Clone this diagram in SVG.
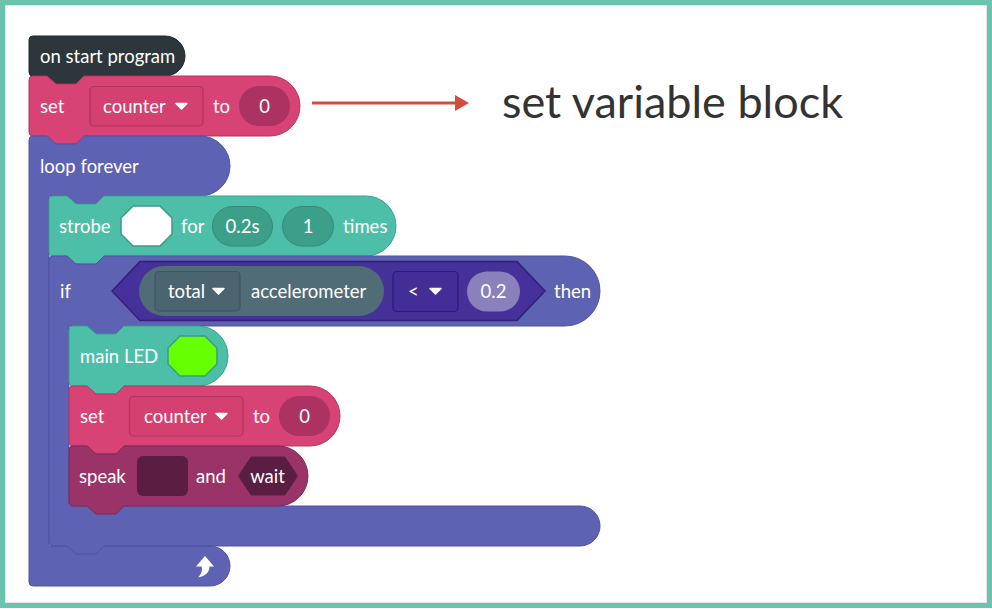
<svg xmlns="http://www.w3.org/2000/svg" width="992" height="609" viewBox="0 0 992 609">
<style>
  .t { font-family: Lato, "Noto Sans", sans-serif; font-size: 18.5px; fill: #ffffff; }
  .big { font-family: Lato, "Noto Sans", sans-serif; font-size: 45px; fill: #333333; }
  .hat { fill: #2c363b; stroke: #1e2629; stroke-width: 1; }
  .pink { fill: #d74374; stroke: #b9345f; stroke-width: 1; }
  .pinkdd { fill: #d4406f; stroke: #b3325c; stroke-width: 1.2; }
  .pinkov { fill: #ab3261; }
  .purple { fill: #5e62b3; stroke: #4f53a3; stroke-width: 1; }
  .teal { fill: #4dbfa8; stroke: #3aa38f; stroke-width: 1; }
  .tealov { fill: #3c9f88; stroke: #348b77; stroke-width: 1; }
  .plum { fill: #9a3468; stroke: #7e2753; stroke-width: 1; }
  .plumdk { fill: #5b1e43; }
  .hex { fill: #46309a; stroke: #33207a; stroke-width: 1.5; }
  .rep { fill: #506c76; }
  .repdd { fill: #4b6570; stroke: #3d5560; stroke-width: 1.2; }
  .opdd { fill: #422e96; stroke: #2c1c6e; stroke-width: 1.2; }
  .numov { fill: #8a80bb; }
  .tri { fill: #ffffff; stroke: #ffffff; stroke-width: 1.5; stroke-linejoin: round; }
  .oct { stroke: #3a9c87; stroke-width: 1.5; }
</style>
<defs>
  <marker id="arrowhead" markerWidth="14" markerHeight="16" refX="0" refY="8" orient="auto" markerUnits="userSpaceOnUse">
    <path d="M0,0 L14,8 L0,16 Z" fill="#d64b3f"/>
  </marker>
</defs>

<rect x="0" y="0" width="992" height="609" fill="#ffffff"/>
<rect x="2.5" y="2.5" width="987" height="603" fill="none" stroke="#69c3ad" stroke-width="5"/>
<rect x="5.5" y="5.5" width="981" height="597" fill="none" stroke="#e6e6e6" stroke-width="1"/>

<g id="hat-block">
  <path class="hat" d="M29,40 Q29,36 33,36 H165 A20,20 0 0 1 165,76 H84 L76,84 H56 L47,76 H33 Q29,76 29,72 Z"/>
  <text class="t" x="40" y="63">on start program</text>
</g>

<g id="set-block-1">
  <path class="pink" d="M29,80 Q29,76 33,76 H47 L56,84 H76 L84,76 H270 A30,30 0 0 1 270,136 H84 L76,144 H56 L47,136 H33 Q29,136 29,132 Z"/>
  <text class="t" x="40" y="113">set</text>
  <rect class="pinkdd" x="90" y="86.5" width="113" height="39.5" rx="4"/>
  <text class="t" x="103" y="113">counter</text>
  <path class="tri" d="M176,103.5 L187,103.5 L181.5,109 Z"/>
  <text class="t" x="213" y="113">to</text>
  <rect class="pinkov" x="239" y="86" width="51" height="40" rx="20"/>
  <text class="t" x="264.5" y="113" text-anchor="middle">0</text>
</g>

<g id="loop-forever">
  <path class="purple" d="M29,140 Q29,136 33,136 H47 L56,144 H76 L84,136 H200 A30,30 0 0 1 200,196 H104 L96,204 H76 L67,196 H49 V546 H210 A20,20 0 0 1 210,586 H33 Q29,586 29,582 Z"/>
  <text class="t" x="40" y="173">loop forever</text>
  <path fill="#ffffff" d="M205,556 L214,566.5 L209.5,566.5 C209.5,572 206,576 198,577.5 C202,573.5 202.5,570 201.5,566.5 L196,566.5 Z"/>
</g>

<g id="strobe-block">
  <path class="teal" d="M49,200 Q49,196 53,196 H67 L76,204 H96 L104,196 H366 A30,30 0 0 1 366,256 H104 L96,264 H76 L67,256 H53 Q49,256 49,252 Z"/>
  <text class="t" x="59" y="233">strobe</text>
  <polygon class="oct" fill="#ffffff" points="133,206 160,206 172,218 172,234 160,246 133,246 121,234 121,218"/>
  <text class="t" x="181" y="233">for</text>
  <rect class="tealov" x="212.5" y="206.5" width="60" height="39.5" rx="19.75"/>
  <text class="t" x="242.5" y="233" text-anchor="middle">0.2s</text>
  <rect class="tealov" x="282.5" y="206.5" width="51" height="39.5" rx="19.75"/>
  <text class="t" x="308" y="233" text-anchor="middle">1</text>
  <text class="t" x="343" y="233">times</text>
</g>

<g id="if-block">
  <path class="purple" d="M49,260 Q49,256 53,256 H67 L76,264 H96 L104,256 H565 A35,35 0 0 1 565,326 H124 L116,334 H96 L87,326 H69 V506 H580 A20,20 0 0 1 580,546 H104 L96,554 H76 L67,546 H53 Q49,546 49,542 Z"/>
  <text class="t" x="60" y="298">if</text>
  <polygon class="hex" points="112,291 140,261.5 517,261.5 545,291 517,320.5 140,320.5"/>
  <rect class="rep" x="139" y="266" width="245" height="50" rx="25"/>
  <rect class="repdd" x="155" y="271.5" width="85" height="39.5" rx="4"/>
  <text class="t" x="168" y="298">total</text>
  <path class="tri" d="M213,288.5 L224,288.5 L218.5,294 Z"/>
  <text class="t" x="251" y="298">accelerometer</text>
  <rect class="opdd" x="393" y="271.5" width="65" height="40" rx="4"/>
  <text class="t" x="408" y="298">&lt;</text>
  <path class="tri" d="M430,288.5 L441,288.5 L435.5,294 Z"/>
  <rect class="numov" x="467" y="271.5" width="53" height="40" rx="20"/>
  <text class="t" x="493.5" y="298" text-anchor="middle">0.2</text>
  <text class="t" x="554" y="298">then</text>
</g>

<g id="main-led-block">
  <path class="teal" d="M69,330 Q69,326 73,326 H87 L96,334 H116 L124,326 H198 A30,30 0 0 1 198,386 H124 L116,394 H96 L87,386 H73 Q69,386 69,382 Z"/>
  <text class="t" x="80" y="363">main LED</text>
  <polygon class="oct" fill="#66ff00" points="180,336 205,336 217,348 217,364 205,376 180,376 168,364 168,348"/>
</g>

<g id="set-block-2">
  <path class="pink" d="M69,390 Q69,386 73,386 H87 L96,394 H116 L124,386 H310 A30,30 0 0 1 310,446 H124 L116,454 H96 L87,446 H73 Q69,446 69,442 Z"/>
  <text class="t" x="80" y="423">set</text>
  <rect class="pinkdd" x="129.5" y="396.5" width="113.5" height="39.5" rx="4"/>
  <text class="t" x="144" y="423">counter</text>
  <path class="tri" d="M216,413.5 L227,413.5 L221.5,419 Z"/>
  <text class="t" x="253" y="423">to</text>
  <rect class="pinkov" x="279" y="396" width="51" height="40" rx="20"/>
  <text class="t" x="304.5" y="423" text-anchor="middle">0</text>
</g>

<g id="speak-block">
  <path class="plum" d="M69,450 Q69,446 73,446 H87 L96,454 H116 L124,446 H278 A30,30 0 0 1 278,506 H124 L116,514 H96 L87,506 H73 Q69,506 69,502 Z"/>
  <text class="t" x="79" y="483">speak</text>
  <rect class="plumdk" x="137" y="456" width="51" height="40" rx="6"/>
  <text class="t" x="196" y="483">and</text>
  <polygon class="plumdk" points="238,476 251,456.5 285,456.5 298,476 285,495.5 251,495.5"/>
  <text class="t" x="267.5" y="483" text-anchor="middle">wait</text>
</g>

<g id="connectors">
  <line x1="312" y1="103" x2="455" y2="103" stroke="#d64b3f" stroke-width="3" marker-end="url(#arrowhead)"/>
</g>

<g id="label">
  <text class="big" x="502" y="118">set variable block</text>
</g>
</svg>
